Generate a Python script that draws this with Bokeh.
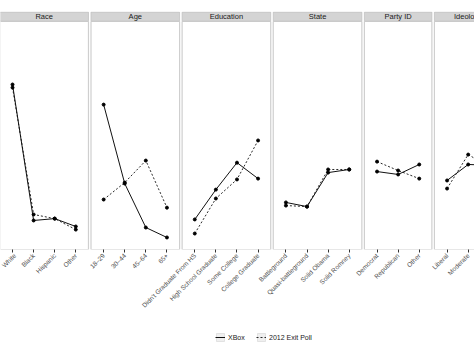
import math
from bokeh.plotting import figure
from bokeh.layouts import column
from bokeh.models import FixedTicker, Legend, LegendItem, Range1d
from bokeh.core.properties import value
from bokeh.embed import file_html
from bokeh.resources import INLINE

# ---------------- data (percent of sample) ----------------
panels = ["Race", "Age", "Education", "State", "Party ID", "Ideology"]
race_cats = ["White", "Black", "Hispanic", "Other"]
age_cats = ["18–29", "30–44", "45–64", "65+"]
edu_cats = ["Didn't Graduate From HS", "High School Graduate", "Some College", "College Graduate"]
state_cats = ["Battleground", "Quasi-battleground", "Solid Obama", "Solid Romney"]
party_cats = ["Democrat", "Republican", "Other"]
ideo_cats = ["Liberal", "Moderate", "Conservative"]

xbox_race = [74.6, 9.0, 9.9, 6.1]
exit_race = [73.1, 11.9, 9.9, 4.6]
xbox_age = [64.9, 26.8, 5.6, 0.8]
exit_age = [19.1, 27.3, 37.9, 15.2]
xbox_edu = [9.5, 23.9, 36.9, 29.2]
exit_edu = [2.7, 19.6, 28.8, 47.6]
xbox_state = [17.7, 15.7, 32.1, 33.6]
exit_state = [16.2, 15.7, 33.6, 33.6]
xbox_party = [32.6, 31.2, 36.0]
exit_party = [37.4, 33.1, 29.2]
xbox_ideo = [28.3, 36.0, 35.7]
exit_ideo = [24.4, 40.8, 34.8]

cats = [race_cats, age_cats, edu_cats, state_cats, party_cats, ideo_cats]
xbox = [xbox_race, xbox_age, xbox_edu, xbox_state, xbox_party, xbox_ideo]
exitp = [exit_race, exit_age, exit_edu, exit_state, exit_party, exit_ideo]

# ---------------- facet geometry (data units) ----------------
UNIT, PAD, GAP = 100, 60, 12
lefts, rights, xpos = [], [], []
cur = 0
for c in cats:
    w = (len(c) - 1) * UNIT + 2 * PAD
    lefts.append(cur)
    rights.append(cur + w)
    xpos.append([cur + PAD + i * UNIT for i in range(len(c))])
    cur += w + GAP
centers = [(l + r) / 2 for l, r in zip(lefts, rights)]

YLO, YHI, YTOP = -5, 105, 109.82
FONT = "Liberation Sans"
W = 474

p = figure(width=W, height=320, output_backend="svg", toolbar_location=None,
           x_range=Range1d(3, 2250), y_range=Range1d(YLO, YTOP),
           min_border_left=0, min_border_right=0, min_border_top=11,
           min_border_bottom=71)
p.outline_line_color = None
p.grid.visible = False
p.yaxis.visible = False
p.background_fill_color = "white"
p.border_fill_color = "white"

# panels and strips
p.quad(left=lefts, right=rights, bottom=YLO, top=YHI,
       fill_color="white", line_color="#cfcfcf", line_width=1.2)
p.quad(left=lefts, right=rights, bottom=YHI + 0.3, top=YTOP - 0.3,
       fill_color="#d4d4d4", line_color="#c2c2c2", line_width=0.8)
p.text(x=centers, y=[(YHI + YTOP) / 2] * len(centers), text=panels,
       text_align="center", text_baseline="middle", text_font=value(FONT),
       text_font_size="7.5px", text_color="#1a1a1a")

# series
xs = [list(x) for x in xpos]
p.multi_line(xs=xs, ys=xbox, line_color="#111111", line_width=1)
p.multi_line(xs=xs, ys=exitp, line_color="#111111", line_width=0.9,
             line_dash="2 2")
allx = [v for x in xpos for v in x]
p.scatter(allx, [v for s in xbox for v in s], size=3, color="black")
p.scatter(allx, [v for s in exitp for v in s], size=3, color="black")

# x axis
labels = {}
for x, c in zip(xpos, cats):
    for xi, ci in zip(x, c):
        labels[xi] = ci
ax = p.xaxis[0]
ax.ticker = FixedTicker(ticks=allx)
ax.major_label_overrides = labels
ax.major_label_orientation = math.pi / 4
ax.axis_line_color = None
ax.major_tick_line_color = "#333333"
ax.major_tick_out = 3
ax.major_tick_in = 0
ax.minor_tick_line_color = None
ax.major_label_standoff = 2
ax.major_label_text_font = FONT
ax.major_label_text_font_size = "6.5px"
ax.major_label_text_color = "#4d4d4d"

# legend strip below (series drawn off-range so only the legend keys show)
q = figure(width=W, height=35, output_backend="svg", toolbar_location=None,
           x_range=Range1d(-2, -1), y_range=Range1d(-2, -1),
           min_border_left=0, min_border_right=0, min_border_top=0,
           min_border_bottom=0)
q.axis.visible = False
q.grid.visible = False
q.outline_line_color = None
kbg = q.quad(left=lefts, right=rights, bottom=YLO, top=YHI,
             fill_color="#efefef", line_color="#d4d4d4", line_width=0.6)
r1 = q.multi_line(xs=xs, ys=xbox, line_color="#111111", line_width=1)
r2 = q.multi_line(xs=xs, ys=exitp, line_color="#111111", line_width=0.9,
                  line_dash="2 2")
legend = Legend(items=[LegendItem(label="XBox", renderers=[kbg, r1]),
                       LegendItem(label="2012 Exit Poll", renderers=[kbg, r2])],
                orientation="horizontal", location=(215, 13),
                border_line_color=None, background_fill_alpha=0,
                glyph_width=10, glyph_height=10, label_standoff=3,
                spacing=8, padding=2, margin=0,
                label_text_font=FONT, label_text_font_size="7px",
                label_text_color="#1a1a1a")
q.add_layout(legend)

open("out.html", "w").write(file_html(column(p, q, spacing=0), INLINE))
